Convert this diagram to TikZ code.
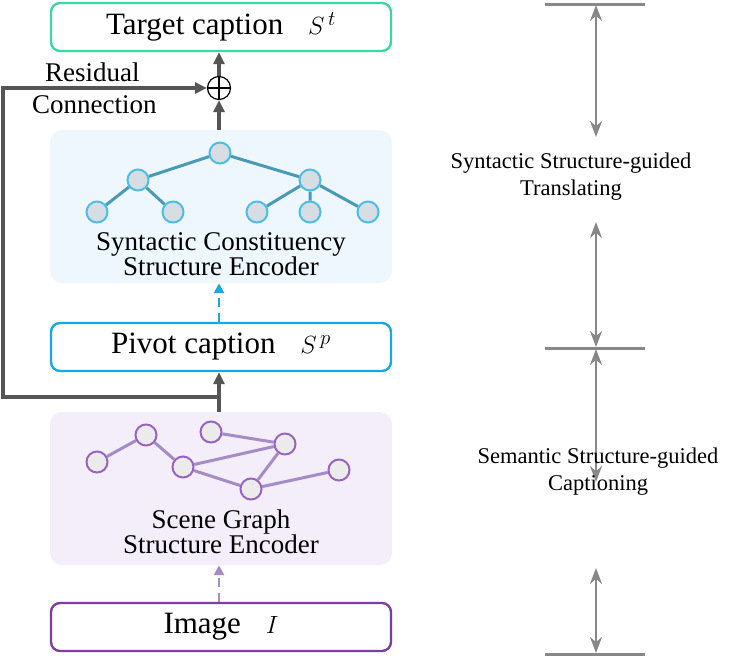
\documentclass[tikz,border=0pt]{standalone}
\usepackage{fontspec}
\setmainfont{Liberation Serif}
\usetikzlibrary{arrows.meta}
\definecolor{tgreen}{HTML}{3DD6A8}
\definecolor{tblue}{HTML}{1AA8E0}
\definecolor{tpurple}{HTML}{7B3FA0}
\definecolor{bgblue}{HTML}{EEF7FD}
\definecolor{bgpurple}{HTML}{F3EEFA}
\definecolor{treeline}{HTML}{4A9AB5}
\definecolor{treenode}{HTML}{4DBDE6}
\definecolor{gline}{HTML}{A58CC4}
\definecolor{gnode}{HTML}{9A63BF}
\definecolor{dgray}{HTML}{555555}
\definecolor{rgray}{HTML}{888888}
\begin{document}
\begin{tikzpicture}[x=1pt,y=-1pt,
  txt/.style={font=\fontsize{27}{24}\selectfont, align=center},
  box/.style={draw, line width=2.4pt, rounded corners=9pt, minimum width=340pt, minimum height=48pt, fill=white, font=\fontsize{31}{33}\selectfont},
  bg/.style={rounded corners=12pt, minimum width=342pt, minimum height=153pt},
  tn/.style={circle, draw=treenode, fill=black!10!bgblue, line width=2pt, minimum size=21pt, inner sep=0pt},
  gn/.style={circle, draw=gnode, fill=black!8, line width=2pt, minimum size=21pt, inner sep=0pt},
  tl/.style={treeline, line width=3pt},
  gl/.style={gline, line width=3pt},
  main/.style={dgray, line width=3.5pt, -{Triangle[length=12pt,width=11pt]}},
  dsh/.style={line width=2.5pt, dash pattern=on 9pt off 6pt, -{Triangle[length=10pt,width=10pt]}},
  rarr/.style={rgray, line width=2.5pt, {Stealth[length=16pt,width=12pt]}-{Stealth[length=16pt,width=12pt]}},
  rtick/.style={rgray, line width=3pt}]
\useasboundingbox (0,0) rectangle (747,657);
% backgrounds
\node[bg, fill=bgblue] (sbg) at (221,206.5) {};
\node[bg, fill=bgpurple] (gbg) at (221,488.5) {};
% boxes
\node[box, draw=tgreen] (tgt) at (221,27) {Target caption\hspace{0.8em}$S^{\,t}$};
\node[box, draw=tblue] (piv) at (221,347) {Pivot caption\hspace{0.8em}$S^{\,p}$};
\node[box, draw=tpurple] (img) at (221,627) {Image\hspace{0.8em}$I$};
\node[txt, inner sep=0pt] (stxt) at (221,254) {Syntactic Constituency\\Structure Encoder};
\node[txt, inner sep=0pt] (gtxt) at (221,532) {Scene Graph\\Structure Encoder};
% tree
\node[tn] (r) at (220,153) {};
\node[tn] (ml) at (138,180) {};
\node[tn] (mr) at (310,180) {};
\node[tn] (l1) at (97,212) {};
\node[tn] (l2) at (173,212) {};
\node[tn] (l3) at (257,212) {};
\node[tn] (l4) at (310,212) {};
\node[tn] (l5) at (368,212) {};
\draw[tl] (r) -- (ml) (r) -- (mr) (ml) -- (l1) (ml) -- (l2) (mr) -- (l3) (mr) -- (l4) (mr) -- (l5);
% graph
\node[gn] (g1) at (97,462) {};
\node[gn] (g2) at (146,435) {};
\node[gn] (g3) at (211,432) {};
\node[gn] (g4) at (183,467) {};
\node[gn] (g5) at (285,444) {};
\node[gn] (g6) at (251,489) {};
\node[gn] (g7) at (339,470) {};
\draw[gl] (g1) -- (g2) (g2) -- (g4) (g3) -- (g5) (g4) -- (g5) (g4) -- (g6) (g5) -- (g6) (g6) -- (g7);
% residual
\node[circle, draw, line width=1.2pt, minimum size=23pt, inner sep=0pt] (plus) at (219,88) {};
\draw[line width=1.2pt] (plus.north) -- (plus.south) (plus.west) -- (plus.east);
\coordinate (split) at (219,397);
\coordinate (c1) at (3,397);
\coordinate (c2) at (3,88);
\draw[main] (gbg.north -| split) -- (piv.south -| split);
\draw[main] (split) -- (c1) -- (c2) -- (plus.west);
\draw[main] (sbg.north -| plus) -- (plus.south);
\draw[main] (plus.north) -- (tgt.south -| plus);
\node[txt, anchor=west, inner sep=0pt] (res) at (45,72) {Residual};
\node[txt, anchor=west, inner sep=0pt] (con) at (32,105) {Connection};
\draw[dsh, tblue] (piv.north -| plus) -- (sbg.south -| plus);
\draw[dsh, gline] (img.north -| plus) -- (gbg.south -| plus);
% right side
\coordinate (t1l) at (545,4); \coordinate (t1r) at (645,4);
\coordinate (t2l) at (545,348); \coordinate (t2r) at (645,348);
\coordinate (t3l) at (545,654); \coordinate (t3r) at (645,654);
\draw[rtick] (t1l) -- (t1r) (t2l) -- (t2r) (t3l) -- (t3r);
\coordinate (a1) at (596,5); \coordinate (a2) at (596,137);
\coordinate (a3) at (596,222); \coordinate (a4) at (596,347);
\coordinate (a5) at (596,349); \coordinate (a6) at (596,482);
\coordinate (a7) at (596,568); \coordinate (a8) at (596,653);
\draw[rarr] (a1) -- (a2);
\draw[rarr] (a3) -- (a4);
\draw[rarr] (a5) -- (a6);
\draw[rarr] (a7) -- (a8);
\node[txt, font=\fontsize{22.5}{27}\selectfont] (syn) at (571,177) {Syntactic Structure-guided\\Translating};
\node[txt, font=\fontsize{22.5}{27}\selectfont] (sem) at (598,472) {Semantic Structure-guided\\Captioning};
\end{tikzpicture}
\end{document}
